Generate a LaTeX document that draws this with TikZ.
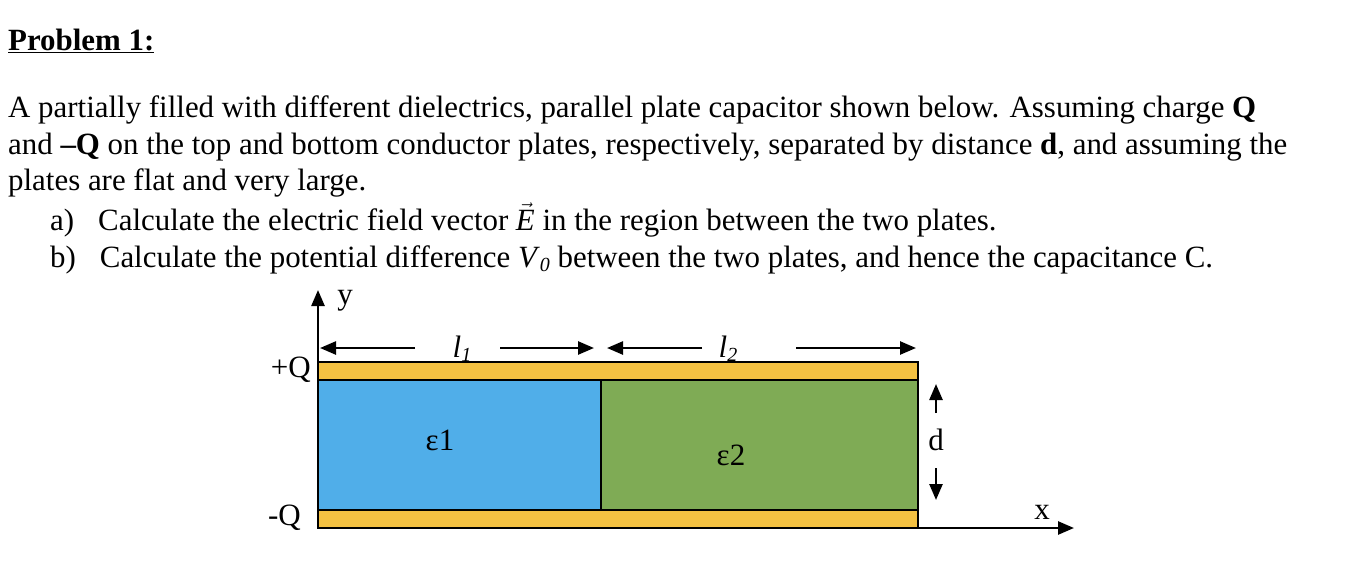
\documentclass[tikz,border=0pt]{standalone}
\usepackage{fontspec}
\setmainfont{Liberation Serif}
\usetikzlibrary{arrows.meta}
\definecolor{plate}{HTML}{F4C142}
\definecolor{die1}{HTML}{50AEE9}
\definecolor{die2}{HTML}{7FAB55}
\tikzset{
 txt/.style={anchor=base west,inner sep=0pt,font=\fontsize{30.9}{36}\selectfont},
 lbl/.style={inner sep=0pt,font=\fontsize{31}{36}\selectfont},
 arr/.style={line width=2.5pt,-{Triangle[length=16pt,width=13pt]}},
 box/.style={draw=black,line width=2.5pt}
}
\newcommand{\subi}[1]{\raisebox{-0.3ex}{\fontsize{20}{20}\selectfont\itshape #1}}
\begin{document}
\begin{tikzpicture}[x=1pt,y=-1pt]
\useasboundingbox (0,0) rectangle (1350,582);
\node[txt] (title) at (8,50) {\textbf{\underline{Problem 1:}}};
\node[txt] (p1) at (8,117) {A partially filled with different dielectrics, parallel plate capacitor shown below. Assuming charge \textbf{Q}};
\node[txt] (p2) at (8,154) {and \textbf{--Q} on the top and bottom conductor plates, respectively, separated by distance \textbf{d}, and assuming the};
\node[txt] (p3) at (8,190) {plates are flat and very large.};
\node[txt] (a) at (50,230) {a)\hspace{24pt}Calculate the electric field vector \ensuremath{\vec{\mbox{\itshape E}}} in the region between the two plates.};
\node[txt] (b) at (50,267) {b)\hspace{24pt}Calculate the potential difference \textit{V}\subi{0} between the two plates, and hence the capacitance C.};
% plates and dielectrics
\draw[box,fill=die1] (318,380) rectangle (601,510);
\draw[box,fill=die2] (601,380) rectangle (918,510);
\draw[box,fill=plate] (318,362) rectangle (918,380);
\draw[box,fill=plate] (318,510) rectangle (918,528);
\coordinate (o) at (318,528);
\coordinate (yt) at (318,290);
\coordinate (xr) at (918,528);
\coordinate (xe) at (1074,528);
\draw[arr] (o) -- (yt);
\draw[arr] (xr) -- (xe);
\node[lbl] (y) at (345,301) {y};
\node[lbl] (x) at (1042,512) {x};
\node[lbl,anchor=east] (pq) at (311,370) {+Q};
\node[lbl,anchor=east] (mq) at (301,518) {-Q};
\node[lbl] (e1) at (440,440) {ε1};
\node[lbl] (e2) at (731,455) {ε2};
\node[lbl,anchor=base] (l1) at (462,357) {\textit{l}\subi{1}};
\node[lbl,anchor=base] (l2) at (728,357) {\textit{l}\subi{2}};
\node[lbl] (d) at (936,440) {d};
\draw[arr] (415,348) -- (320,348);
\draw[arr] (500,348) -- (594,348);
\draw[arr] (702,348) -- (607,348);
\draw[arr] (796,348) -- (916,348);
\draw[arr] (936,413) -- (936,384);
\draw[arr] (936,468) -- (936,500);
\end{tikzpicture}
\end{document}
